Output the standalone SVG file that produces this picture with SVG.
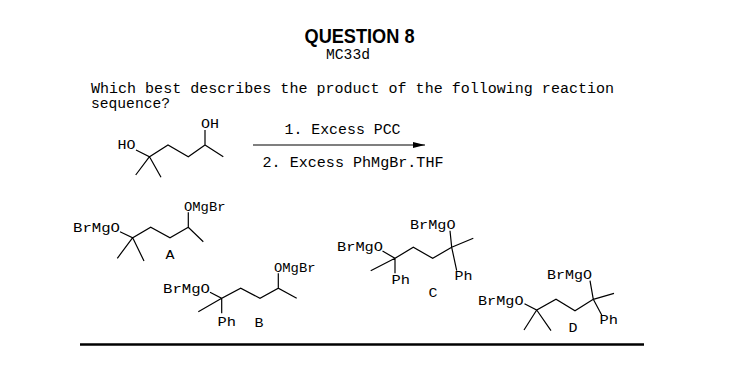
<svg xmlns="http://www.w3.org/2000/svg" width="739" height="376" viewBox="0 0 739 376">
<style>
.t{font-family:"Liberation Mono","DejaVu Sans Mono",monospace;font-size:14.67px;fill:#000}
.l{font-family:"Liberation Mono","DejaVu Sans Mono",monospace;font-size:13.5px;fill:#000}
.h{font-family:"Liberation Sans",Arial,sans-serif;font-weight:bold;font-size:19.5px;fill:#000}
.b{fill:none;stroke:#000;stroke-width:1.2;stroke-linejoin:miter;stroke-linecap:butt}
</style>
<defs>
<marker id="ah" markerWidth="12" markerHeight="6" refX="12" refY="3" orient="auto" markerUnits="userSpaceOnUse">
<path d="M0,0 L12,3 L0,6 Z" fill="#000"/>
</marker>
</defs>
<rect width="739" height="376" fill="#fff"/>
<g id="header">
<text class="h" x="359.5" y="42.5" text-anchor="middle" textLength="110" lengthAdjust="spacingAndGlyphs">QUESTION 8</text>
<text class="t" x="326" y="59.3" textLength="44" lengthAdjust="spacingAndGlyphs">MC33d</text>
<text class="t" x="91" y="93.3" textLength="523" lengthAdjust="spacingAndGlyphs">Which best describes the product of the following reaction</text>
<text class="t" x="91" y="108.3" textLength="79" lengthAdjust="spacingAndGlyphs">sequence?</text>
</g>
<g id="start">
<text class="l" x="117.5" y="149.3" textLength="18" lengthAdjust="spacingAndGlyphs">HO</text>
<text class="l" x="201" y="128.3" textLength="18" lengthAdjust="spacingAndGlyphs">OH</text>
<path class="b" d="M136,150 L149.5,156.7 L168,145 L188.3,156.7 L205,145 L223.3,156.7 M205,145 L205,130 M149.5,156.7 L135.7,175 M149.5,156.7 L161,177.3"/>
</g>
<g id="arrow">
<line class="b" x1="253" y1="145" x2="425" y2="145" marker-end="url(#ah)"/>
<text class="t" x="284.5" y="134" textLength="116" lengthAdjust="spacingAndGlyphs">1. Excess PCC</text>
<text class="t" x="262.5" y="166.7" textLength="181" lengthAdjust="spacingAndGlyphs">2. Excess PhMgBr.THF</text>
</g>
<g id="A">
<text class="l" x="73" y="231.7" textLength="47" lengthAdjust="spacingAndGlyphs">BrMgO</text>
<text class="l" x="184" y="210.7" textLength="41.5" lengthAdjust="spacingAndGlyphs">OMgBr</text>
<path class="b" d="M120,231.8 L132.7,237.7 L150.7,227.3 L170,237.7 L188.3,227.3 L203.3,241.7 M188.3,227.3 L188.3,212.3 M132.7,237.7 L117.3,258.3 M132.7,237.7 L144,261"/>
<text class="l" x="165.5" y="259.2" textLength="9" lengthAdjust="spacingAndGlyphs">A</text>
</g>
<g id="B">
<text class="l" x="163" y="292.7" textLength="47" lengthAdjust="spacingAndGlyphs">BrMgO</text>
<text class="l" x="274" y="271.7" textLength="41.5" lengthAdjust="spacingAndGlyphs">OMgBr</text>
<path class="b" d="M210,292.3 L221.7,298.3 L240.7,288.3 L260,298.3 L278.3,288.3 L296.7,298.3 M278.3,288.3 L278.3,273.3 M221.7,298.3 L198.3,311.7 M221.7,298.3 L221.7,313.3"/>
<text class="l" x="217.5" y="325.7" textLength="18.5" lengthAdjust="spacingAndGlyphs">Ph</text>
<text class="l" x="254.5" y="327.3" textLength="9" lengthAdjust="spacingAndGlyphs">B</text>
</g>
<g id="C">
<text class="l" x="410" y="229.3" textLength="45.5" lengthAdjust="spacingAndGlyphs">BrMgO</text>
<text class="l" x="337" y="250.7" textLength="46" lengthAdjust="spacingAndGlyphs">BrMgO</text>
<path class="b" d="M382.5,251 L395,258.3 L413.3,247.3 L432.7,258.3 L451.7,247.3 M395,258.3 L370.7,270.7 M395,258.3 L395,273.3 M451.7,247.3 L450,230.7 M451.7,247.3 L473.3,238.3 M451.7,247.3 L456.7,270.7"/>
<text class="l" x="391.5" y="284" textLength="18.5" lengthAdjust="spacingAndGlyphs">Ph</text>
<text class="l" x="454.5" y="280" textLength="18" lengthAdjust="spacingAndGlyphs">Ph</text>
<text class="l" x="428.5" y="297" textLength="9" lengthAdjust="spacingAndGlyphs">C</text>
</g>
<g id="D">
<text class="l" x="547" y="279.3" textLength="45" lengthAdjust="spacingAndGlyphs">BrMgO</text>
<text class="l" x="478" y="305" textLength="45.5" lengthAdjust="spacingAndGlyphs">BrMgO</text>
<path class="b" d="M524.5,303.8 L536.7,310 L556,299.3 L575,310.7 L593.3,299.3 M536.7,310 L524,330 M536.7,310 L551,330.7 M593.3,299.3 L590,280.7 M593.3,299.3 L614,293.3 M593.3,299.3 L601.7,315"/>
<text class="l" x="599.5" y="324" textLength="18.5" lengthAdjust="spacingAndGlyphs">Ph</text>
<text class="l" x="568.5" y="331.7" textLength="9" lengthAdjust="spacingAndGlyphs">D</text>
</g>
<g id="rule">
<line x1="80" y1="344.5" x2="644" y2="344.5" stroke="#000" stroke-width="2.5"/>
</g>
</svg>
